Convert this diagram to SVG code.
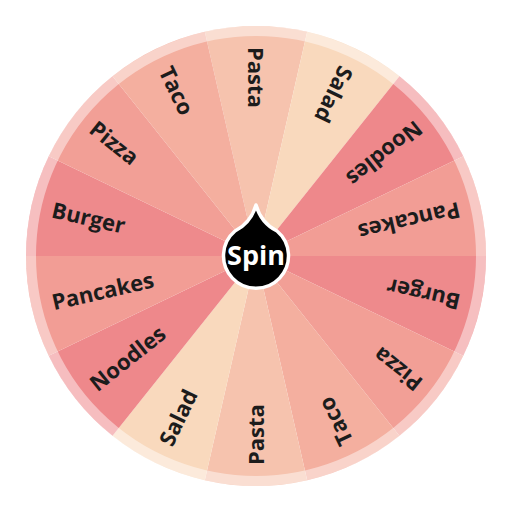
<svg xmlns="http://www.w3.org/2000/svg" width="512" height="512" viewBox="0 0 512 512">
<style>
.pasta{fill:#F6C3AE}
.salad{fill:#F9D9BD}
.noodles{fill:#EE888B}
.pancakes{fill:#F29D95}
.burger{fill:#EE8A8C}
.pizza{fill:#F29F96}
.taco{fill:#F4AF9F}
.lbl{font-family:"Open Sans","Liberation Sans",sans-serif;font-weight:700;font-size:22px;fill:#1c1c1c}
</style>
<rect width="512" height="512" fill="#ffffff"/>
<g id="wheel">
<g id="seg0"><path class="pasta" d="M256,256 L204.82,31.77 A230,230 0 0 1 307.18,31.77 Z"/><text class="lbl" x="47" y="256" dy="0.36em" transform="rotate(90 256 256)">Pasta</text></g>
<g id="seg1"><path class="salad" d="M256,256 L307.18,31.77 A230,230 0 0 1 399.40,76.18 Z"/><text class="lbl" x="47" y="256" dy="0.36em" transform="rotate(115.714 256 256)">Salad</text></g>
<g id="seg2"><path class="noodles" d="M256,256 L399.40,76.18 A230,230 0 0 1 463.22,156.21 Z"/><text class="lbl" x="47" y="256" dy="0.36em" transform="rotate(141.429 256 256)">Noodles</text></g>
<g id="seg3"><path class="pancakes" d="M256,256 L463.22,156.21 A230,230 0 0 1 486,256 Z"/><text class="lbl" x="47" y="256" dy="0.36em" transform="rotate(167.143 256 256)">Pancakes</text></g>
<g id="seg4"><path class="burger" d="M256,256 L486,256 A230,230 0 0 1 463.22,355.79 Z"/><text class="lbl" x="47" y="256" dy="0.36em" transform="rotate(192.857 256 256)">Burger</text></g>
<g id="seg5"><path class="pizza" d="M256,256 L463.22,355.79 A230,230 0 0 1 399.40,435.82 Z"/><text class="lbl" x="47" y="256" dy="0.36em" transform="rotate(218.571 256 256)">Pizza</text></g>
<g id="seg6"><path class="taco" d="M256,256 L399.40,435.82 A230,230 0 0 1 307.18,480.23 Z"/><text class="lbl" x="47" y="256" dy="0.36em" transform="rotate(244.286 256 256)">Taco</text></g>
<g id="seg7"><path class="pasta" d="M256,256 L307.18,480.23 A230,230 0 0 1 204.82,480.23 Z"/><text class="lbl" x="47" y="256" dy="0.36em" transform="rotate(270 256 256)">Pasta</text></g>
<g id="seg8"><path class="salad" d="M256,256 L204.82,480.23 A230,230 0 0 1 112.60,435.82 Z"/><text class="lbl" x="47" y="256" dy="0.36em" transform="rotate(295.714 256 256)">Salad</text></g>
<g id="seg9"><path class="noodles" d="M256,256 L112.60,435.82 A230,230 0 0 1 48.78,355.79 Z"/><text class="lbl" x="47" y="256" dy="0.36em" transform="rotate(321.429 256 256)">Noodles</text></g>
<g id="seg10"><path class="pancakes" d="M256,256 L48.78,355.79 A230,230 0 0 1 26,256 Z"/><text class="lbl" x="47" y="256" dy="0.36em" transform="rotate(347.143 256 256)">Pancakes</text></g>
<g id="seg11"><path class="burger" d="M256,256 L26,256 A230,230 0 0 1 48.78,156.21 Z"/><text class="lbl" x="47" y="256" dy="0.36em" transform="rotate(12.857 256 256)">Burger</text></g>
<g id="seg12"><path class="pizza" d="M256,256 L48.78,156.21 A230,230 0 0 1 112.60,76.18 Z"/><text class="lbl" x="47" y="256" dy="0.36em" transform="rotate(38.571 256 256)">Pizza</text></g>
<g id="seg13"><path class="taco" d="M256,256 L112.60,76.18 A230,230 0 0 1 204.82,31.77 Z"/><text class="lbl" x="47" y="256" dy="0.36em" transform="rotate(64.286 256 256)">Taco</text></g>
</g>
<circle id="rim" cx="256" cy="256" r="225" fill="none" stroke="#ffffff" stroke-width="10" opacity="0.45"/>
<g id="spin">
<path d="M256,205 Q261,223 277,231 A32.5,32.5 0 1 1 235,231 Q251,223 256,205 Z" fill="#000000" stroke="#ffffff" stroke-width="3.5" stroke-linejoin="round"/>
<text x="256" y="265" text-anchor="middle" font-family="'Open Sans','Liberation Sans',sans-serif" font-weight="700" font-size="27" fill="#ffffff">Spin</text>
</g>
</svg>
